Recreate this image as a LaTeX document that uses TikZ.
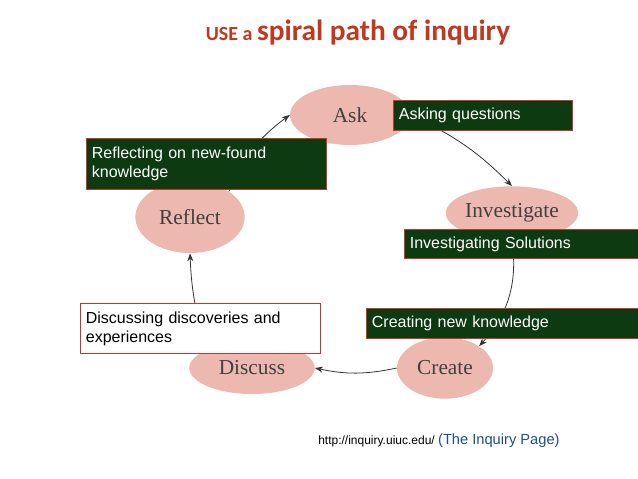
\documentclass[tikz,border=0pt]{standalone}
\usepackage{fontspec}
\setmainfont{Liberation Sans}
\newfontfamily\calib{Carlito}
\newfontfamily\serifc{Liberation Serif}
\usetikzlibrary{shapes.geometric,arrows.meta}
\definecolor{pinkc}{HTML}{EDB8B0}
\definecolor{gbox}{HTML}{0E3A12}
\definecolor{bred}{HTML}{C0392B}
\definecolor{titlec}{HTML}{C0381E}
\definecolor{linkc}{HTML}{1F4E8C}
\begin{document}
\begin{tikzpicture}[x=0.75pt,y=-0.75pt,
 stage/.style={ellipse,fill=pinkc,draw=none,text=black!75,inner sep=0pt,font=\fontsize{16}{18}\selectfont\serifc},
 gbx/.style={draw=bred,fill=gbox,text=white,line width=0.8pt,anchor=north west,align=left,inner sep=4pt,font=\fontsize{12}{14}\selectfont},
 arr/.style={-{Stealth[length=6pt]},black!80,line width=0.6pt}]
\useasboundingbox (0,0) rectangle (638,478);
\node[text=titlec,font=\calib\bfseries] (title) at (358,33) {\fontsize{15}{18}\selectfont USE a \fontsize{22}{25}\selectfont spiral path of inquiry};
\node[stage,minimum width=90pt,minimum height=45pt] (ask) at (350,115) {Ask};
\node[stage,minimum width=86pt,minimum height=40pt] (inv) at (512,213) {Investigate};
\node[stage,minimum width=72pt,minimum height=46pt] (cre) at (445,368) {Create};
\node[stage,minimum width=94pt,minimum height=39pt] (dis) at (252,368) {Discuss};
\node[stage,minimum width=82pt,minimum height=54pt] (ref) at (190,217) {Reflect};
\draw[arr] (ask.east) to[bend left=10] (inv.north);
\draw[arr] (inv.south) to[bend left=25] (cre.north east);
\draw[arr] (cre.west) to[bend left=12] (dis.east);
\draw[arr] (dis.north west) to[bend left=8] (ref.south);
\draw[arr] (ref.north east) to[bend left=15] (ask.west);
\node[gbx,text width=126pt,minimum height=22.5pt] (b1) at (393,100) {Asking questions};
\node[gbx,text width=172pt,minimum height=38pt] (b2) at (86,138) {Reflecting on new-found\\knowledge};
\node[gbx,text width=168pt,minimum height=22pt] (b3) at (404,229) {Investigating Solutions};
\node[gbx,fill=white,text=black,text width=172pt,minimum height=37.5pt] (b4) at (80,303) {Discussing discoveries and\\experiences};
\node[gbx,text width=196pt,minimum height=22.5pt] (b5) at (366,308) {Creating new knowledge};
\node[anchor=west,inner sep=0] (url) at (318,441) {\fontsize{9}{11}\selectfont http://inquiry.uiuc.edu/ \fontsize{11}{13}\selectfont\color{linkc}(The Inquiry Page)};
\end{tikzpicture}
\end{document}
